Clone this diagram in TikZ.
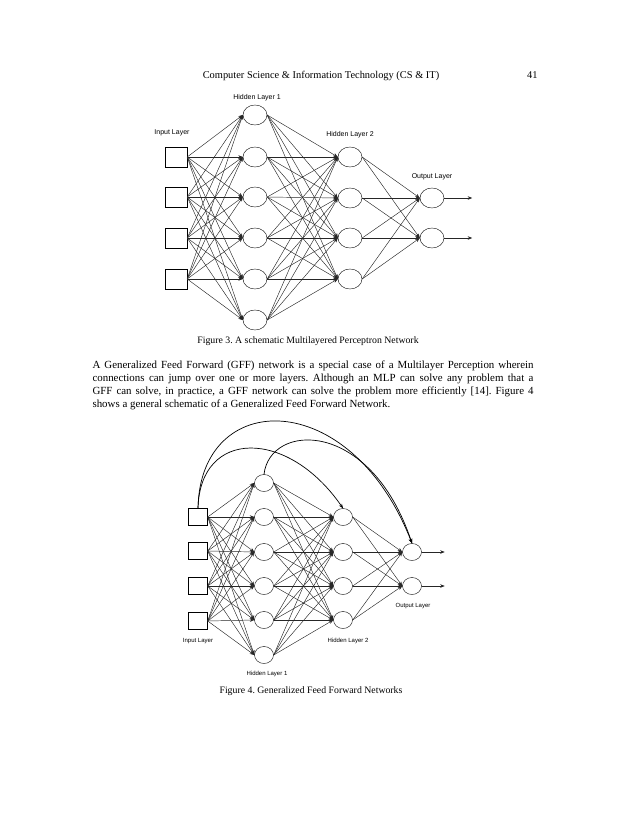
\documentclass[tikz,border=0pt]{standalone}
\usepackage{fontspec}
\setmainfont{Liberation Serif}
\setsansfont{Liberation Sans}
\usetikzlibrary{
	arrows.meta,
	positioning,
	shapes.geometric,
	}

\tikzset{
	head/.style={font=\fontsize{10.4}{12.8}\selectfont},
	body/.style={font=\fontsize{10.9}{13}\selectfont},
	caption/.style={font=\fontsize{9.8}{12}\selectfont, anchor=base},
	layer/.style={font=\sffamily\fontsize{7}{8}\selectfont},
	smalllayer/.style={font=\sffamily\fontsize{6}{7}\selectfont},
	inbox/.style={draw, minimum width=22pt, minimum height=20pt, inner sep=0pt},
	neuron/.style={draw, ellipse, minimum width=24pt, minimum height=20pt, inner sep=0pt},
	tiny/.style={minimum width=19pt, minimum height=17pt},
	link/.style={-{Stealth[length=4.5pt, width=3.5pt]}, line width=0.45pt, black!85},
	jump/.style={-{Stealth[length=4.5pt, width=3.5pt]}, line width=0.7pt},
}

\begin{document}
\frenchspacing
\begin{tikzpicture}[x=1pt, y=-1pt]
	\useasboundingbox (0,0) rectangle (638,826);

	% page head
	\node[head, anchor=base] (headline) at (321,79) {Computer Science \& Information Technology (CS \& IT)};
	\node[head, anchor=base east] (pageno) at (541,79) {41};

	% Figure 3: multilayered perceptron
	\foreach \i/\y in {1/157,2/197,3/238,4/279}
		\node[inbox] (in\i) at (176,\y) {};
	\foreach \i/\y in {1/115,2/157,3/197,4/238,5/279,6/320}
		\node[neuron] (ha\i) at (255,\y) {};
	\foreach \i/\y in {1/157,2/198,3/238,4/279}
		\node[neuron] (hb\i) at (350,\y) {};
	\foreach \i/\y in {1/198,2/238}
		\node[neuron] (out\i) at (432,\y) {};
	\foreach \i in {1,2}
		\coordinate[right=28pt of out\i] (res\i);

	\foreach \i in {1,...,4}
		\foreach \j in {1,...,6}
			\draw[link] (in\i.east) -- (ha\j.west);
	\foreach \i in {1,...,6}
		\foreach \j in {1,...,4}
			\draw[link] (ha\i.east) -- (hb\j.west);
	\foreach \i in {1,...,4}
		\foreach \j in {1,2}
			\draw[link] (hb\i.east) -- (out\j.west);
	\foreach \i in {1,2}
		\draw[link] (out\i.east) -- (res\i);

	\node[layer] (lha) at (257,98) {Hidden Layer 1};
	\node[layer] (lin) at (172,133) {Input Layer};
	\node[layer] (lhb) at (350,135) {Hidden Layer 2};
	\node[layer] (lout) at (432,177) {Output Layer};

	\node[caption] (cap3) at (308,343) {Figure 3. A schematic Multilayered Perceptron Network};

	% text
	\node[body, anchor=base west] (p1) at (89,368) {\makebox[441pt][s]{A Generalized Feed Forward (GFF) network is a special case of a Multilayer Perception wherein}};
	\node[body, anchor=base west] (p2) at (89,381) {\makebox[441pt][s]{connections can jump over one or more layers. Although an MLP can solve any problem that a}};
	\node[body, anchor=base west] (p3) at (89,394) {\makebox[441pt][s]{GFF can solve, in practice, a GFF network can solve the problem more efficiently [14]. Figure 4}};
	\node[body, anchor=base west] (p4) at (89,407) {shows a general schematic of a Generalized Feed Forward Network.};

	% Figure 4: generalized feed forward
	\foreach \i/\y in {1/517,2/551,3/586,4/621}
		\node[inbox, tiny] (gin\i) at (198,\y) {};
	\foreach \i/\y in {1/483,2/517,3/552,4/586,5/620,6/655}
		\node[neuron, tiny] (gha\i) at (264,\y) {};
	\foreach \i/\y in {1/517,2/552,3/586,4/620}
		\node[neuron, tiny] (ghb\i) at (343,\y) {};
	\foreach \i/\y in {1/552,2/586}
		\node[neuron, tiny] (gout\i) at (412,\y) {};
	\foreach \i in {1,2}
		\coordinate[right=23pt of gout\i] (gres\i);

	\foreach \i in {1,...,4}
		\foreach \j in {1,...,6}
			\draw[link] (gin\i.east) -- (gha\j.west);
	\foreach \i in {1,...,6}
		\foreach \j in {1,...,4}
			\draw[link] (gha\i.east) -- (ghb\j.west);
	\foreach \i in {1,...,4}
		\foreach \j in {1,2}
			\draw[link] (ghb\i.east) -- (gout\j.west);
	\foreach \i in {1,2}
		\draw[link] (gout\i.east) -- (gres\i);

	% skip connections
	\draw[jump] (gin1.north) .. controls +(2,-120) and +(-62,-158) .. (gout1.north);
	\draw[jump] (gin1.north) .. controls +(2,-80) and +(-55,-80) .. (ghb1.north);
	\draw[jump] (gha1.north) .. controls +(6,-52) and +(-42,-125) .. (gout1.north);

	\node[smalllayer] (glout) at (413,606) {Output Layer};
	\node[smalllayer] (glin) at (198,641) {Input Layer};
	\node[smalllayer] (glhb) at (348,641) {Hidden Layer 2};
	\node[smalllayer] (glha) at (267,674) {Hidden Layer 1};

	\node[caption] (cap4) at (311,693) {Figure 4. Generalized Feed Forward Networks};
\end{tikzpicture}
\end{document}
